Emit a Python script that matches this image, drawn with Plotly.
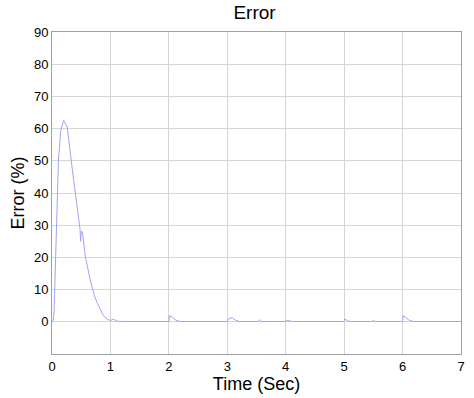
import plotly.graph_objects as go

time_sec = [0.0, 0.02, 0.035, 0.05, 0.068, 0.085, 0.11, 0.15, 0.2, 0.26, 0.31, 0.37, 0.43, 0.48,
            0.49, 0.5, 0.52, 0.53, 0.57, 0.65, 0.72, 0.77, 0.83, 0.88, 0.95, 1.0, 1.05, 1.12, 1.2,
            2.0, 2.01, 2.06, 2.12, 2.2, 3.0, 3.02, 3.08, 3.14, 3.2, 3.52, 3.55, 3.58,
            4.0, 4.01, 4.06, 4.12, 5.0, 5.01, 5.05, 5.1, 5.47, 5.5, 5.53,
            6.0, 6.01, 6.06, 6.12, 6.2, 7.0]
error_pct = [0.0, 0.5, 3.0, 12.0, 25.0, 38.0, 50.0, 59.5, 62.5, 60.5, 52.3, 44.0, 35.8, 28.7,
             25.0, 28.0, 28.0, 26.0, 20.4, 13.3, 8.5, 6.0, 3.8, 1.9, 0.8, 0.4, 0.8, 0.2, 0.1,
             0.1, 1.9, 1.4, 0.5, 0.1, 0.1, 0.9, 1.3, 0.5, 0.1, 0.1, 0.6, 0.1,
             0.1, 0.5, 0.3, 0.1, 0.1, 0.9, 0.4, 0.1, 0.1, 0.4, 0.1,
             0.1, 1.9, 1.3, 0.4, 0.1, 0.1]

x_ticks = [0, 1, 2, 3, 4, 5, 6, 7]
y_ticks = [0, 10, 20, 30, 40, 50, 60, 70, 80, 90]

fig = go.Figure()
fig.add_trace(go.Scatter(x=time_sec, y=error_pct, mode="lines",
                         line=dict(color="#a3a3f5", width=1), showlegend=False))

axis_common = dict(showgrid=True, gridcolor="#d6d6d6", gridwidth=1,
                   showline=True, linecolor="#a0a0a0", linewidth=1, mirror=True,
                   zeroline=False, ticks="", automargin=False,
                   tickfont=dict(family="Liberation Sans, Arial", size=13, color="black"))

fig.update_layout(
    width=474, height=398,
    margin=dict(l=52, r=13, t=32, b=44),
    paper_bgcolor="white", plot_bgcolor="white",
    font=dict(family="Liberation Sans, Arial", color="black"),
    title=dict(text="Error", x=0.537, xanchor="center", y=0.97, yanchor="middle",
               font=dict(size=19, color="black")),
    xaxis=dict(range=[0, 7], tickvals=x_ticks, title=dict(text="Time (Sec)", font=dict(size=18), standoff=2),
               **axis_common),
    yaxis=dict(range=[-10, 90], tickvals=y_ticks, title=dict(text="Error (%)", font=dict(size=18), standoff=4),
               **axis_common),
)

fig.write_html("out.html", config={"displayModeBar": False},
               post_script="document.body.style.margin='0';")
